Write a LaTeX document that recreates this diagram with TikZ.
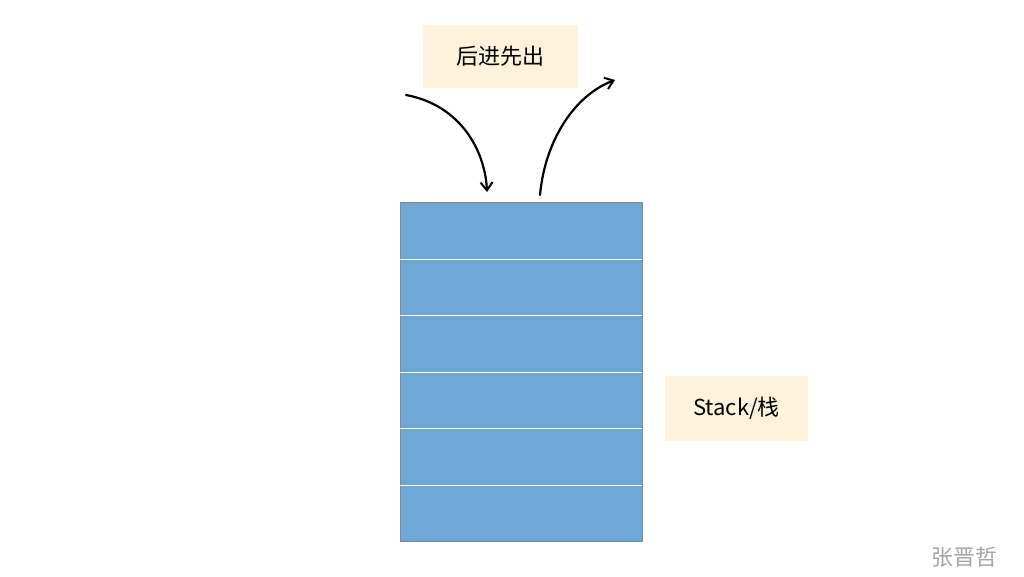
\documentclass[tikz,border=0pt]{standalone}
\usepackage{fontspec}
\setmainfont{Noto Sans CJK SC}
\usetikzlibrary{arrows.meta}
\definecolor{stackblue}{HTML}{6FA8D6}
\definecolor{cream}{HTML}{FDF3DC}
\tikzset{
  lbl/.style={fill=cream,inner sep=0pt,font=\fontsize{22}{26}\selectfont},
  arr/.style={line width=2.2pt,line cap=round,-{Straight Barb[length=8pt,width=12pt,line width=2pt]}},
  sep/.style={white,line width=0.8pt}
}
\begin{document}
\begin{tikzpicture}[x=1pt,y=-1pt]
\useasboundingbox[fill=white] (0,0) rectangle (1024,576);
\node[lbl,minimum width=155pt,minimum height=63pt] (lifo) at (500.5,56.5) {后进先出};
\node[lbl,minimum width=143pt,minimum height=65pt] (st) at (736.5,408.5) {Stack/栈};
\node[draw=gray!70!stackblue,fill=stackblue,minimum width=242pt,minimum height=339pt,inner sep=0pt] (stack) at (521,371.5) {};
\foreach \y in {259,315,372,428,485}
  \draw[sep] (stack.west|-0,\y) -- (stack.east|-0,\y);
\coordinate (a1) at (406,95);
\coordinate (a2) at (487,192);
\coordinate (b1) at (540,195);
\coordinate (b2) at (615,80);
\draw[arr] (a1) .. controls (460,105) and (485,150) .. (a2);
\draw[arr] (b1) .. controls (545,140) and (575,95) .. (b2);
\node[text=gray!70,font=\fontsize{22}{26}\selectfont] (wm) at (964,557) {张晋哲};
\end{tikzpicture}
\end{document}
